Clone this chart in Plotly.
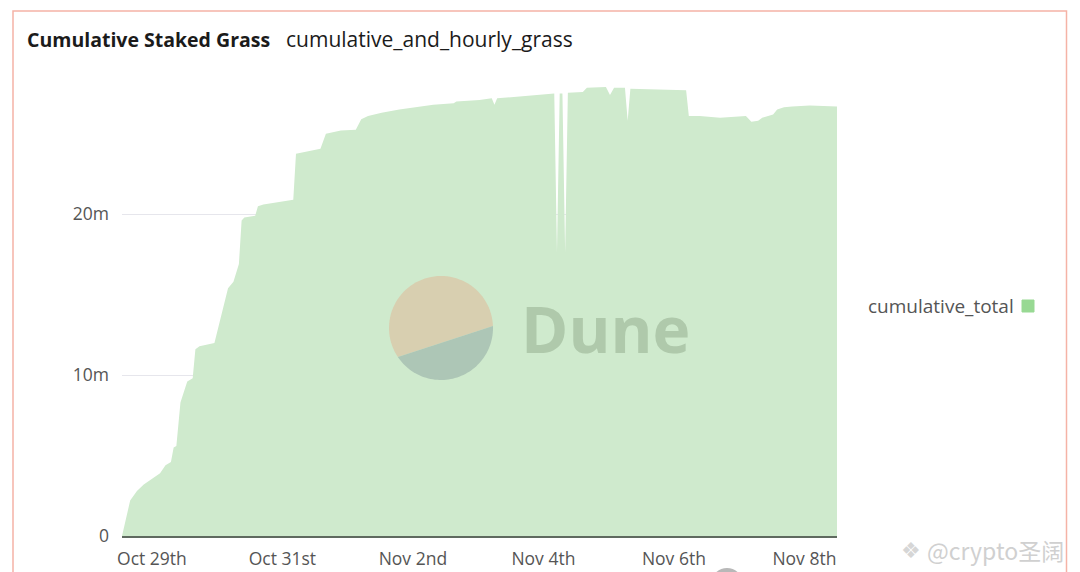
import math
import plotly.graph_objects as go

# ---------------- data ----------------
times = [
    "2024-10-28 13:00", "2024-10-28 14:30", "2024-10-28 16:00", "2024-10-28 18:30",
    "2024-10-28 21:00", "2024-10-29 03:00", "2024-10-29 05:00", "2024-10-29 07:00",
    "2024-10-29 08:00", "2024-10-29 09:00", "2024-10-29 10:30", "2024-10-29 13:00",
    "2024-10-29 15:00", "2024-10-29 16:00", "2024-10-29 17:30", "2024-10-29 23:00",
    "2024-10-30 01:00", "2024-10-30 04:00", "2024-10-30 06:00", "2024-10-30 08:00",
    "2024-10-30 09:00", "2024-10-30 10:00", "2024-10-30 14:00", "2024-10-30 15:00",
    "2024-10-30 17:00", "2024-10-31 04:00", "2024-10-31 05:00", "2024-10-31 14:00",
    "2024-10-31 16:00", "2024-10-31 21:30", "2024-11-01 03:00", "2024-11-01 05:00",
    "2024-11-01 07:30", "2024-11-01 12:30", "2024-11-01 19:00", "2024-11-02 02:30",
    "2024-11-02 07:30", "2024-11-02 15:00", "2024-11-02 16:00", "2024-11-03 00:30",
    "2024-11-03 05:00", "2024-11-03 06:00", "2024-11-03 07:00", "2024-11-04 04:00",
    "2024-11-04 05:00", "2024-11-04 06:00", "2024-11-04 07:00", "2024-11-04 08:00",
    "2024-11-04 09:00", "2024-11-04 14:30", "2024-11-04 16:00", "2024-11-04 23:00",
    "2024-11-05 00:30", "2024-11-05 02:00", "2024-11-05 06:00", "2024-11-05 07:00",
    "2024-11-05 08:00", "2024-11-06 04:30", "2024-11-06 05:30", "2024-11-06 09:30",
    "2024-11-06 17:00", "2024-11-07 02:30", "2024-11-07 04:30", "2024-11-07 07:00",
    "2024-11-07 08:30", "2024-11-07 12:30", "2024-11-07 14:00", "2024-11-07 16:30",
    "2024-11-07 19:30", "2024-11-08 02:00", "2024-11-08 12:00",
]
cumulative_total_m = [
    0.0, 1.1, 2.2, 2.8,
    3.2, 3.9, 4.4, 4.6,
    5.5, 5.6, 8.3, 9.6,
    9.8, 11.6, 11.8, 12.0,
    13.4, 15.4, 15.8, 16.9,
    19.6, 19.8, 19.9, 20.5,
    20.6, 20.9, 23.75, 24.06,
    25.0, 25.2, 25.25, 25.9,
    26.1, 26.3, 26.5, 26.7,
    26.8, 26.9, 27.0, 27.1,
    27.2, 26.8, 27.2, 27.5,
    17.6, 27.5, 27.5, 17.6,
    27.55, 27.6, 27.85, 27.9,
    27.4, 27.85, 27.85, 25.8,
    27.8, 27.7, 26.1, 26.1,
    26.0, 26.1, 25.75, 25.8,
    26.0, 26.2, 26.5, 26.65,
    26.7, 26.75, 26.7,
]
x_tick_vals = ["2024-10-29", "2024-10-31", "2024-11-02", "2024-11-04", "2024-11-06", "2024-11-08"]
x_tick_text = ["Oct 29th", "Oct 31st", "Nov 2nd", "Nov 4th", "Nov 6th", "Nov 8th"]
y_tick_vals = [0, 10_000_000, 20_000_000]
y_tick_text = ["0", "10m", "20m"]
series_name = "cumulative_total"
title_main = "Cumulative Staked Grass"
title_sub = "cumulative_and_hourly_grass"

# ---------------- layout geometry (screen pixels) ----------------
OFF = 8                      # default page margin of the html body
W, H = 1080 - OFF, 572 - OFF
L, R, T, B = 122, 837, 75, 536
Y_MAX = 28.65e6
FONT = "Open Sans"


def px(x):
    return (x - L) / (R - L)


def py(y):
    return (B - y) / (B - T)


fig = go.Figure()
fig.add_trace(go.Scatter(
    x=times,
    y=[v * 1e6 for v in cumulative_total_m],
    name=series_name,
    mode="lines",
    line=dict(width=0, color="#cfeacd"),
    fill="tozeroy",
    fillcolor="#cfeacd",
    showlegend=False,
))

shapes = []
# outer salmon frame
shapes.append(dict(type="rect", xref="paper", yref="paper",
                   x0=px(13), x1=px(1066.5), y0=py(600), y1=py(11),
                   line=dict(color="#f5b3a6", width=1.5), fillcolor="rgba(0,0,0,0)",
                   layer="below"))

# Dune logo watermark (circle split in two)
cx, cy, r = 441, 328, 52
a_start, a_end = -2.2, 146.1


def arc_path(a0, a1, n=60):
    pts = []
    for i in range(n + 1):
        a = math.radians(a0 + (a1 - a0) * i / n)
        pts.append((px(cx + r * math.cos(a)), py(cy + r * math.sin(a))))
    return "M " + " L ".join(f"{x:.5f},{y:.5f}" for x, y in pts) + " Z"


shapes.append(dict(type="path", xref="paper", yref="paper",
                   path=arc_path(a_start, a_end - 360), fillcolor="#d8cfb0",
                   line=dict(width=0), layer="above"))
shapes.append(dict(type="path", xref="paper", yref="paper",
                   path=arc_path(a_start, a_end), fillcolor="#adc6b6",
                   line=dict(width=0), layer="above"))
# legend marker (rounded square) on the right of the text
shapes.append(dict(type="rect", xref="paper", yref="paper",
                   x0=px(1022), x1=px(1034), y0=py(312), y1=py(300),
                   fillcolor="#98d993", line=dict(color="#98d993", width=1)))
# partial grey avatar circle at the bottom edge
shapes.append(dict(type="circle", xref="paper", yref="paper",
                   x0=px(711), x1=px(743), y0=py(600), y1=py(568),
                   fillcolor="#b8b8b8", line=dict(width=0)))

annotations = [
    dict(text=f"<b>{title_main}</b>", xref="paper", yref="paper",
         x=px(25), y=py(39), xanchor="left", yanchor="middle", showarrow=False,
         font=dict(family=FONT, size=19.5, color="#1b1b1b")),
    dict(text=title_sub, xref="paper", yref="paper",
         x=px(284), y=py(39), xanchor="left", yanchor="middle", showarrow=False,
         font=dict(family=FONT, size=21, color="#1b1b1b")),
    dict(text=series_name, xref="paper", yref="paper",
         x=px(1016), y=py(306), xanchor="right", yanchor="middle", showarrow=False,
         font=dict(family=FONT, size=19, color="#555555")),
    dict(text="<b>Dune</b>", xref="paper", yref="paper",
         x=px(605), y=py(328), xanchor="center", yanchor="middle", showarrow=False,
         font=dict(family=FONT, size=64, color="#afc9ab")),
    dict(text="@crypto圣阔", xref="paper", yref="paper",
         x=px(925), y=py(550), xanchor="left", yanchor="middle", showarrow=False,
         font=dict(family="Noto Sans CJK SC", size=23, color="#d0d0d0")),
    dict(text="❖", xref="paper", yref="paper",
         x=px(911), y=py(550), xanchor="center", yanchor="middle", showarrow=False,
         font=dict(family="DejaVu Sans", size=22, color="#d6d6d6")),
]

fig.update_layout(
    width=W, height=H,
    margin=dict(l=L - OFF, r=W - (R - OFF), t=T - OFF, b=H - (B - OFF), pad=0,
                autoexpand=False),
    paper_bgcolor="white", plot_bgcolor="white",
    font=dict(family=FONT, size=17, color="#555555"),
    shapes=shapes,
    annotations=annotations,
    showlegend=False,
    xaxis=dict(
        range=[times[0], times[-1]],
        tickvals=x_tick_vals, ticktext=x_tick_text,
        showgrid=False, zeroline=False,
        showline=True, linecolor="#5f6a5f", linewidth=2,
        ticks="", ticklabelstandoff=6, automargin=False,
        tickfont=dict(size=17.5, color="#555555"),
    ),
    yaxis=dict(
        range=[0, Y_MAX],
        tickvals=y_tick_vals, ticktext=y_tick_text,
        showgrid=True, gridcolor="#e6e6ec", gridwidth=1,
        zeroline=False, showline=False, ticks="",
        ticklabelstandoff=12, automargin=False,
        tickfont=dict(size=17.5, color="#555555"),
    ),
)

fig.write_html("out.html")
